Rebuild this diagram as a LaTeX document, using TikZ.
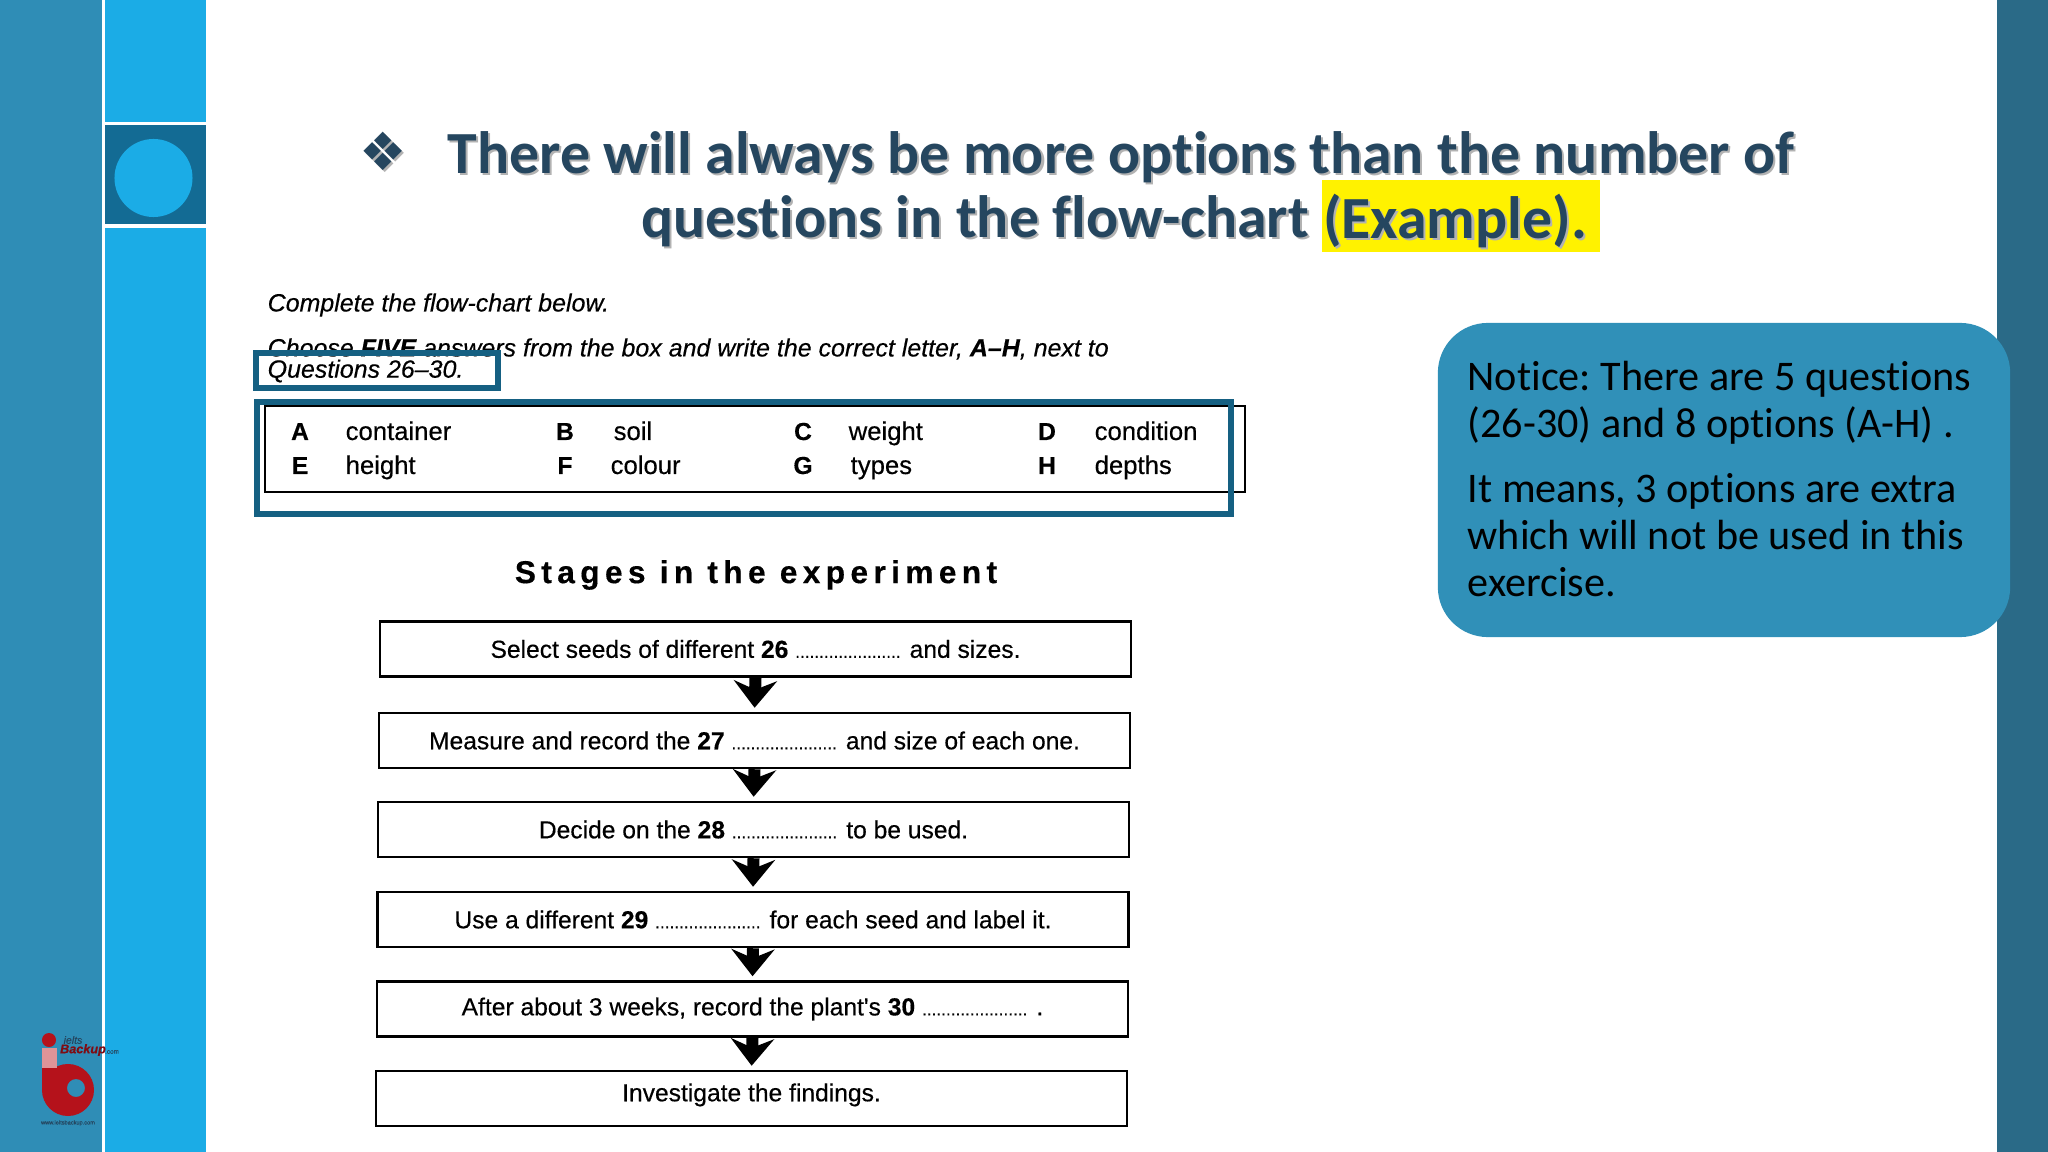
\documentclass[tikz,border=0pt]{standalone}
\usepackage{fontspec}
\usetikzlibrary{arrows.meta}
\setmainfont[Ligatures=CommonOff]{Carlito}
\newfontfamily\titlefont[Ligatures=CommonOff]{Carlito}
\newfontfamily\scanfont[FakeBold=0.4]{Liberation Sans}
\newfontfamily\bulletfont{DejaVu Sans}
\definecolor{stripblue}{HTML}{2F8DB6}
\definecolor{lightblue}{HTML}{1BACE6}
\definecolor{darkband}{HTML}{136B94}
\definecolor{rightstrip}{HTML}{2A6A87}
\definecolor{calloutblue}{HTML}{3090B8}
\definecolor{tealbox}{HTML}{156082}
\definecolor{titleblue}{HTML}{25465F}
\definecolor{logored}{HTML}{B5121B}
\newcommand{\shadowed}[1]{\makebox[0pt][l]{\hspace{0.6pt}\raisebox{-0.6pt}{\textcolor{black!30}{#1}}}#1}
\newcommand{\blanks}{{\fontsize{4.9}{5}\selectfont ......................}}
\tikzset{
  titletext/.style={inner sep=0,text=titleblue,font=\fontsize{17}{20}\selectfont\titlefont\bfseries},
  scantext/.style={inner sep=0,anchor=west,font=\fontsize{7.1}{8}\selectfont\scanfont\itshape},
  optionletter/.style={inner sep=0,anchor=base,font=\fontsize{7}{8}\selectfont\scanfont\bfseries},
  optionword/.style={inner sep=0,anchor=base west,font=\fontsize{7.3}{8}\selectfont\scanfont},
  stagebox/.style={draw=black,line width=0.7pt,inner sep=0,minimum width=7.51cm,minimum height=0.55cm,
    font=\fontsize{7}{8}\selectfont\scanfont},
  stagearrow/.style={line width=0.12cm,shorten >=0.04cm,
    -{Stealth[length=0.27cm,width=0.43cm,inset=0.09cm]}},
  tealframe/.style={draw=tealbox,line width=1.5pt}
}
\begin{document}
\begin{tikzpicture}[x=0.01cm,y=-0.01cm]
\useasboundingbox (0,0) rectangle (2048,1152);

\fill[color=stripblue] (0,0) rectangle (102,1152);
\fill[color=lightblue] (105,0) rectangle (206,1152);
\fill[color=white] (105,122) rectangle (206,228);
\fill[color=darkband] (105,125) rectangle (206,224);
\fill[color=lightblue] (153.5,178) circle (0.39cm);
\fill[color=rightstrip] (1997,0) rectangle (2048,1152);

\fill[color=yellow] (1322,180) rectangle (1600,252);
\node[inner sep=0,text=titleblue,font=\fontsize{15}{18}\selectfont\bulletfont] (bullet) at (383,152) {\shadowed{❖}};
\node[titletext] (titleone) at (1121,158) {\shadowed{There will always be more options than the number of}};
\node[titletext] (titletwo) at (975,222) {\shadowed{questions in the flow-chart}};
\node[titletext] (titleex) at (1455,222) {\shadowed{(Example).}};

\node[scantext] (complete) at (267,305) {Complete the flow-chart below.};
\node[scantext] (choose) at (267,349) {Choose \textbf{FIVE} answers from the box and write the correct letter, \textbf{A–H}, next to};
\node[scantext] (questions) at (267,371) {Questions 26–30.};
\draw[tealframe] (256,353) rectangle (498,388);

\draw[color=black,line width=0.6pt] (265,406) rectangle (1245,492);
\foreach \letter/\word/\letterx/\wordx/\rowy in {A/container/300/345/440,B/soil/565/613/440,C/weight/803/848/440,D/condition/1047/1094/440,E/height/300/345/474,F/colour/565/610/474,G/types/803/850/474,H/depths/1047/1094/474}
{
\node[optionletter] (opt\letter) at (\letterx,\rowy) {\letter};
\node[optionword] (word\letter) at (\wordx,\rowy) {\word};
}
\draw[tealframe] (257,402) rectangle (1231,514);

\node[inner sep=0,font=\fontsize{9}{10}\selectfont\scanfont\bfseries\addfontfeature{LetterSpace=17}] (stages) at (756,575) {Stages in the experiment};

\node[stagebox] (seeds) at (755.5,649) {Select seeds of different \textbf{26} \blanks{} and sizes.};
\node[stagebox] (measure) at (754.5,740.5) {Measure and record the \textbf{27} \blanks{} and size of each one.};
\node[stagebox] (decide) at (753.5,829.5) {Decide on the \textbf{28} \blanks{} to be used.};
\node[stagebox] (label) at (753,919.5) {Use a different \textbf{29} \blanks{} for each seed and label it.};
\node[stagebox] (record) at (752.5,1009) {After about 3 weeks, record the plant's \textbf{30} \blanks{} .};
\node[stagebox] (findings) at (751.5,1098.5) {\raisebox{3.5pt}{Investigate the findings.}};

\draw[stagearrow] (seeds.south) -- (measure.north);
\draw[stagearrow] (measure.south) -- (decide.north);
\draw[stagearrow] (decide.south) -- (label.north);
\draw[stagearrow] (label.south) -- (record.north);
\draw[stagearrow] (record.south) -- (findings.north);

\node[fill=calloutblue,rounded corners=0.5cm,minimum width=5.72cm,minimum height=3.14cm,inner sep=0] (notice) at (1724,480) {};
\node[anchor=west,inner sep=0,align=left,text=black,font=\fontsize{12}{13.4}\selectfont\frenchspacing] (noticetext) at (1467,479)
  {Notice: There are 5 questions\\(26-30) and 8 options (A-H) .\\[5pt]It means, 3 options are extra\\which will not be used in this\\exercise.};

\fill[color=logored] (49,1040) circle (0.07cm);
\fill[color=logored,even odd rule] (68,1090) circle (0.26cm) (76,1088) circle (0.09cm);
\fill[color=logored] (42,1048) rectangle (57,1090);
\fill[color=logored!45!white] (42,1048) rectangle (57,1068);
\node[inner sep=0,text=titleblue,font=\fontsize{3}{4}\selectfont\scanfont\itshape] (ielts) at (73,1040) {ielts};
\node[inner sep=0,text=logored!70!black,font=\fontsize{3.6}{4}\selectfont\scanfont\bfseries\itshape] (backup) at (83,1050) {Backup};
\node[inner sep=0,text=titleblue,font=\fontsize{1.8}{2}\selectfont\scanfont] (dotcom) at (112,1052) {.com};
\node[inner sep=0,text=titleblue,font=\fontsize{1.6}{2}\selectfont\scanfont] (website) at (68,1123) {www.ieltsbackup.com};

\end{tikzpicture}
\end{document}
